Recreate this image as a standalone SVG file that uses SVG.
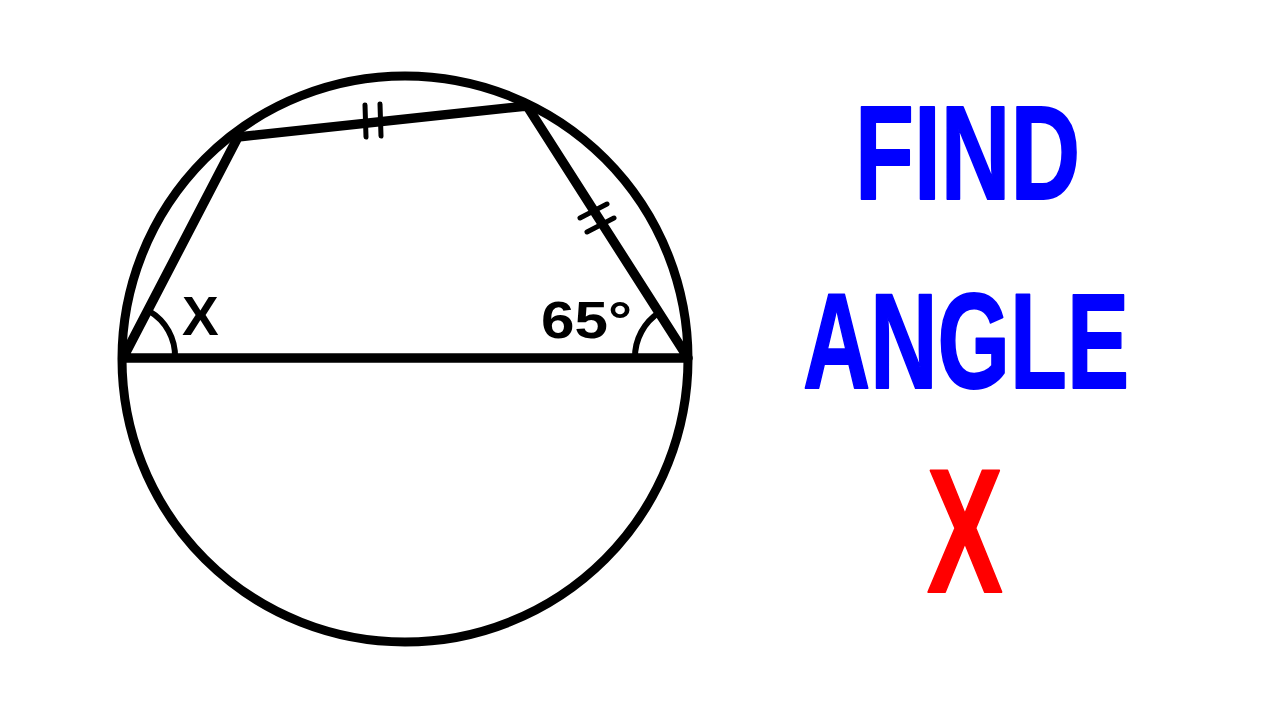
<svg xmlns="http://www.w3.org/2000/svg" width="1280" height="720" viewBox="0 0 1280 720">
<style>
.stk{fill:none;stroke:#000;stroke-linejoin:round;stroke-linecap:round}
.lbl{font-family:"Liberation Sans",Arial,sans-serif;font-weight:bold;fill:#000}
.ttl{font-family:"Liberation Sans",Arial,sans-serif;font-weight:bold;stroke-width:2;stroke-linejoin:round}
.blue{fill:#0000ff;stroke:#0000ff}
.red{fill:#ff0000;stroke:#ff0000}
</style>
<rect width="1280" height="720" fill="#fff"/>
<g id="circle"><circle class="stk" cx="405" cy="359" r="283" stroke-width="9"/></g>
<g id="connectors">
<path class="stk" stroke-width="9.5" d="M123 358 L238 137 L527 106 L688 358 Z"/>
<path class="stk" stroke-width="6" d="M149 311 A52 52 0 0 1 175 358"/>
<path class="stk" stroke-width="6" d="M635 358 A53 53 0 0 1 660 312"/>
<path class="stk" stroke-width="5" stroke-linecap="butt" d="M365 105 L366 137 M380 104 L381 136"/>
<path class="stk" stroke-width="5" stroke-linecap="butt" d="M580 218 L607 204 M587 232 L614 218"/>
</g>
<g id="label-x"><text class="lbl" x="182" y="335" font-size="55">X</text></g>
<g id="label-65"><text class="lbl" x="541" y="338" font-size="52" textLength="91" lengthAdjust="spacingAndGlyphs">65°</text></g>
<g id="title">
<text class="ttl blue" transform="translate(855 199) scale(0.72 1)" font-size="134">FIND</text>
<text class="ttl blue" transform="translate(803 388) scale(0.685 1)" font-size="136">ANGLE</text>
<text class="ttl red" transform="translate(927 592) scale(0.645 1)" font-size="176">X</text>
</g>
</svg>
